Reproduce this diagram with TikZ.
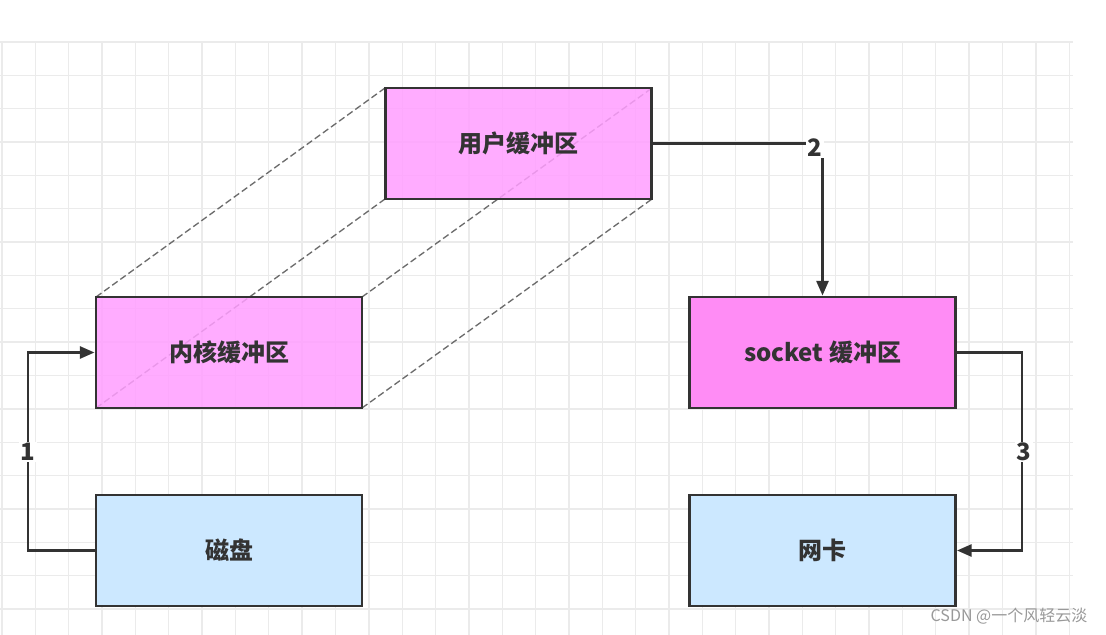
\documentclass[tikz,border=0pt]{standalone}
\usepackage{fontspec}
\setmainfont{Noto Sans CJK SC}
\usetikzlibrary{arrows.meta}
\definecolor{pinkA}{HTML}{FF9EFF}
\definecolor{pinkB}{HTML}{FF8CF5}
\definecolor{blueA}{HTML}{CCE8FF}
\definecolor{edge}{HTML}{333333}
\definecolor{gridc}{HTML}{EBEBEB}
\begin{document}
\begin{tikzpicture}[x=0.75pt,y=-0.75pt,
  box/.style={draw=edge,line width=2.2pt,minimum width=266*0.75pt,minimum height=111*0.75pt,inner sep=0pt,font=\bfseries\fontsize{18}{20}\selectfont,text=edge},
  conn/.style={draw=edge,line width=2pt,-{Triangle[length=11pt,width=9pt]}},
  prism/.style={draw=gray!85!black,line width=1pt,dash pattern=on 5pt off 2.5pt},
  lab/.style={fill=white,inner sep=1pt,font=\bfseries\fontsize{18}{20}\selectfont,text=edge}]
\useasboundingbox (0,0) rectangle (1106,635);
\fill[white] (0,0) rectangle (1106,635);
\foreach \i in {0,...,32} \draw[gridc,line width=1pt] ({2+\i*33.35},42) -- ({2+\i*33.35},635);
\foreach \j in {0,...,17} \draw[gridc,line width=1pt] (0,{42+\j*33.35}) -- (1073,{42+\j*33.35});
\coordinate (k1) at (96,297); \coordinate (k2) at (362,297);
\coordinate (k3) at (96,408); \coordinate (k4) at (362,408);
\coordinate (u1) at (385,88); \coordinate (u2) at (652,88);
\coordinate (u3) at (385,199); \coordinate (u4) at (652,199);
\draw[prism] (k1)--(u1); \draw[prism] (k2)--(u2); \draw[prism] (k3)--(u3); \draw[prism] (k4)--(u4);
\node[box,fill=pinkA,fill opacity=0.85,text opacity=1] (user) at (518.5,143.5) {用户缓冲区};
\node[box,fill=pinkA,fill opacity=0.85,text opacity=1] (kern) at (229,352.5) {内核缓冲区};
\node[box,fill=pinkB] (sock) at (822.5,352.5) {socket 缓冲区};
\node[box,fill=blueA] (disk) at (229,550.5) {磁盘};
\node[box,fill=blueA] (nic) at (822.5,550.5) {网卡};
\draw[conn] (disk.west) -- (28,550.5) -- (28,352.5) -- (kern.west);
\draw[conn] (user.east) -- (822.5,143.5) -- (sock.north);
\draw[conn] (sock.east) -- (1022,352.5) -- (1022,550.5) -- (nic.east);
\node[lab] (l1) at (28,452) {1};
\node[lab] (l2) at (815,148) {2};
\node[lab] (l3) at (1024,452) {3};
\node[text=gray!80,font=\fontsize{12}{14}\selectfont,anchor=east] (wm) at (1092,616) {CSDN @一个风轻云淡};
\end{tikzpicture}
\end{document}
